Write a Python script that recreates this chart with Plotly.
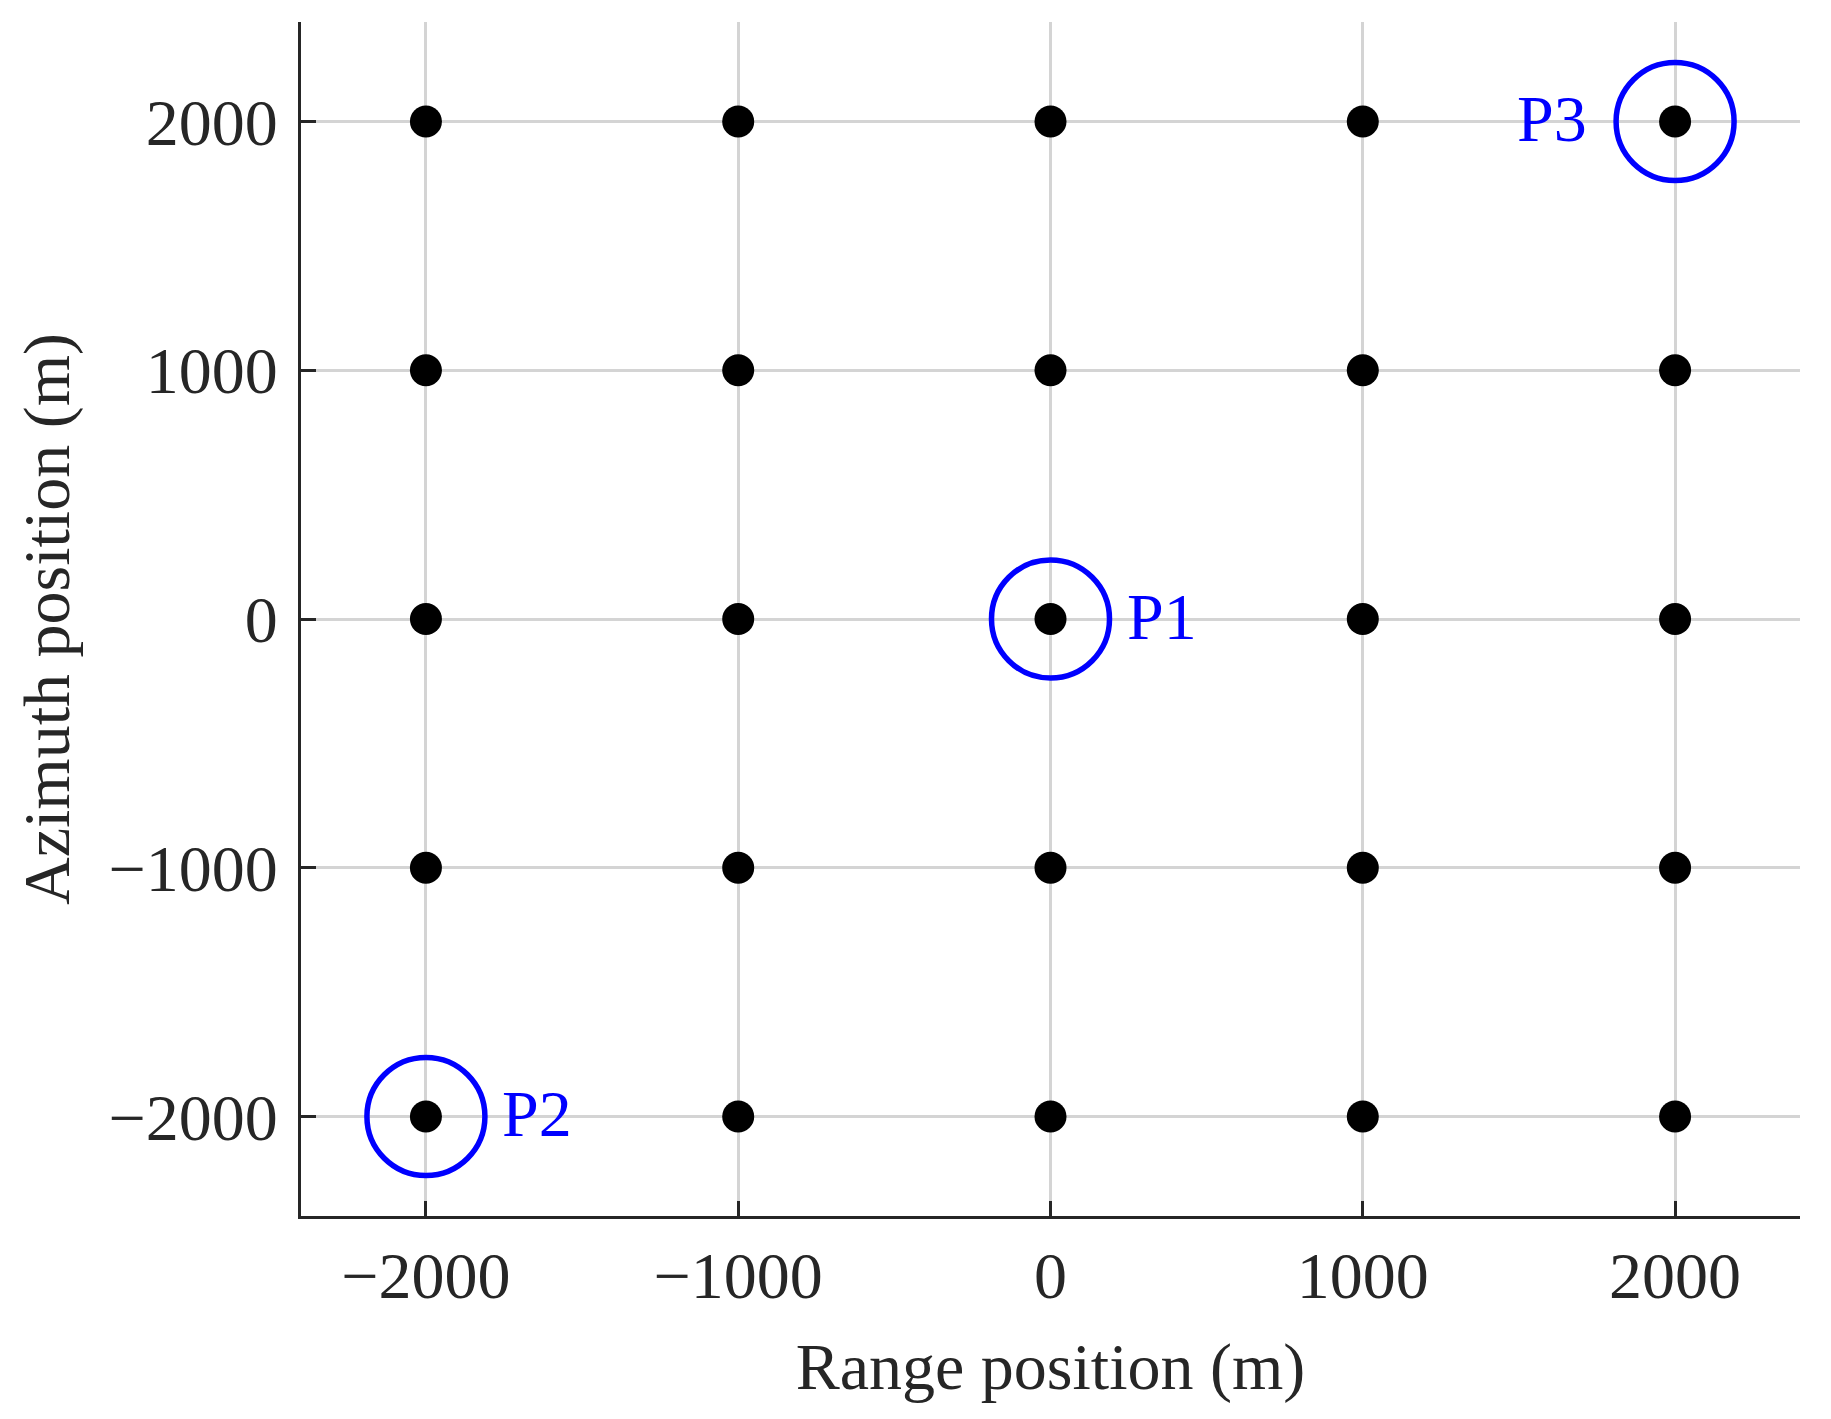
import plotly.graph_objects as go

# grid of point targets (m)
GRID_RANGE = [-2000, -1000, 0, 1000, 2000]
GRID_AZIMUTH = [-2000, -1000, 0, 1000, 2000]

# highlighted targets
HL_NAMES = ["P1", "P2", "P3"]
HL_RANGE = [0, -2000, 2000]
HL_AZIMUTH = [0, -2000, 2000]
HL_SIDE = ["right", "right", "left"]

TICKS = [-2000, -1000, 0, 1000, 2000]

FONT = "Liberation Serif"
INK = "#262626"
BLUE = "#0000FF"

xs = [r for a in GRID_AZIMUTH for r in GRID_RANGE]
ys = [a for a in GRID_AZIMUTH for r in GRID_RANGE]

fig = go.Figure()

fig.add_trace(go.Scatter(
    x=xs, y=ys,
    mode="markers",
    marker=dict(size=32, color="black", line=dict(width=0)),
    showlegend=False,
    hoverinfo="skip"
))

fig.add_trace(go.Scatter(
    x=HL_RANGE, y=HL_AZIMUTH,
    mode="markers",
    marker=dict(size=118, symbol="circle-open", color=BLUE, line=dict(width=5.5, color=BLUE)),
    showlegend=False,
    hoverinfo="skip"
))

for name, x, y, side in zip(HL_NAMES, HL_RANGE, HL_AZIMUTH, HL_SIDE):
    fig.add_annotation(
        x=x, y=y, text=name, showarrow=False,
        xanchor="left" if side == "right" else "right",
        xshift=74 if side == "right" else -86,
        yshift=3,
        font=dict(family=FONT, size=66, color=BLUE)
    )

axis_style = dict(
    range=[-2400, 2400],
    tickvals=TICKS,
    ticks="inside",
    ticklen=15,
    tickwidth=3,
    tickcolor=INK,
    showline=True,
    linewidth=3,
    linecolor=INK,
    mirror=False,
    showgrid=True,
    gridcolor="#d4d4d4",
    gridwidth=3,
    zeroline=False,
    tickfont=dict(family=FONT, size=66, color=INK),
    title_font=dict(family=FONT, size=66, color=INK),
)

fig.update_xaxes(axis_style, title_text="Range position (m)", title_standoff=32,
                 ticklabelstandoff=0)
fig.update_yaxes(axis_style, title_text="Azimuth position (m)", title_standoff=18,
                 ticklabelstandoff=7)

# page body adds an 8px margin, so the figure is a little smaller than the window
fig.update_layout(
    width=1823,
    height=1411,
    margin=dict(l=293, r=31, t=14, b=203),
    paper_bgcolor="white",
    plot_bgcolor="white",
    font=dict(family=FONT, color=INK),
)

fig.write_html("out.html")
